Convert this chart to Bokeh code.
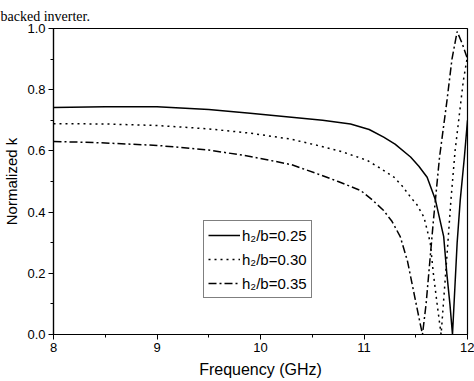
from bokeh.plotting import figure
from bokeh.models import Range1d, Legend, LegendItem, FixedTicker
from bokeh.embed import file_html
from bokeh.resources import INLINE

# Data
freq_025 = [8.0, 8.5, 9.0, 9.5, 9.9, 10.3, 10.6, 10.87, 11.05, 11.19, 11.3, 11.45, 11.53, 11.61, 11.69, 11.77, 11.80, 11.83, 11.855, 11.9, 11.93, 11.97, 12.0]
k_025 = [0.742, 0.744, 0.744, 0.735, 0.723, 0.710, 0.700, 0.688, 0.670, 0.645, 0.622, 0.580, 0.550, 0.514, 0.44, 0.32, 0.20, 0.10, 0.0, 0.30, 0.44, 0.58, 0.70]

freq_030 = [8.0, 8.5, 9.0, 9.5, 9.9, 10.3, 10.55, 10.8, 11.03, 11.15, 11.29, 11.37, 11.45, 11.51, 11.58, 11.64, 11.67, 11.71, 11.745, 11.80, 11.84, 11.88, 11.96, 12.0]
k_030 = [0.689, 0.688, 0.683, 0.672, 0.658, 0.638, 0.618, 0.596, 0.569, 0.545, 0.514, 0.485, 0.449, 0.425, 0.383, 0.30, 0.20, 0.09, 0.0, 0.25, 0.44, 0.60, 0.83, 0.91]

freq_035 = [8.0, 8.5, 9.0, 9.5, 9.9, 10.3, 10.55, 10.75, 10.97, 11.08, 11.19, 11.27, 11.35, 11.42, 11.48, 11.54, 11.565, 11.6, 11.67, 11.73, 11.8, 11.85, 11.9, 11.95, 12.0]
k_035 = [0.631, 0.626, 0.618, 0.603, 0.582, 0.555, 0.525, 0.500, 0.470, 0.440, 0.405, 0.370, 0.32, 0.24, 0.14, 0.04, 0.0, 0.10, 0.37, 0.58, 0.76, 0.90, 0.99, 0.95, 0.90]

labels = ["h\u2082/b=0.25", "h\u2082/b=0.30", "h\u2082/b=0.35"]
x_ticks = [8, 9, 10, 11, 12]
y_ticks = [0.0, 0.2, 0.4, 0.6, 0.8, 1.0]

FONT = "Liberation Sans"

p = figure(output_backend="svg", toolbar_location=None,
           x_range=Range1d(8, 12), y_range=Range1d(0, 1.0),
           frame_width=414, frame_height=306,
           min_border_left=53, min_border_right=7, min_border_top=28, min_border_bottom=47)
p.background_fill_color = "white"
p.border_fill_color = "white"
p.outline_line_color = "black"
p.outline_line_width = 1.2
p.xgrid.visible = False
p.ygrid.visible = False

# caption text at top
p.title.text = "backed inverter."
p.title.text_font = "Liberation Serif"
p.title.text_font_size = "14px"
p.title.text_font_style = "normal"
p.title.text_color = "black"
p.title.align = "left"
p.title.offset = -53
p.title.standoff = 10

r1 = p.line(freq_025, k_025, line_color="black", line_width=1.5)
r2 = p.line(freq_030, k_030, line_color="black", line_width=1.5, line_dash="2 4")
r3 = p.line(freq_035, k_035, line_color="black", line_width=1.5, line_dash="8 3 2 3")

for ax in (p.xaxis[0], p.yaxis[0]):
    ax.axis_line_color = "black"
    ax.axis_line_width = 1.2
    ax.major_tick_line_color = "black"
    ax.minor_tick_line_color = "black"
    ax.major_tick_out = 5
    ax.major_tick_in = 0
    ax.minor_tick_out = 3
    ax.minor_tick_in = 0
    ax.major_label_text_font = FONT
    ax.major_label_text_font_size = "13px"
    ax.major_label_text_color = "black"
    ax.major_label_standoff = 3
    ax.axis_label_text_font = FONT
    ax.axis_label_text_font_style = "normal"
    ax.axis_label_text_color = "black"

p.xaxis.ticker = FixedTicker(ticks=x_ticks, minor_ticks=[8.5, 9.5, 10.5, 11.5])
p.yaxis.ticker = FixedTicker(ticks=y_ticks, minor_ticks=[0.1, 0.3, 0.5, 0.7, 0.9])
p.yaxis.major_label_overrides = {v: f"{v:.1f}" for v in y_ticks}
p.xaxis.major_label_overrides = {v: str(v) for v in x_ticks}

p.xaxis.axis_label = "Frequency (GHz)"
p.xaxis.axis_label_text_font_size = "16px"
p.xaxis.axis_label_standoff = 6

p.yaxis.axis_label = "Normalized k"
p.yaxis.axis_label_text_font_size = "15px"
p.yaxis.axis_label_standoff = 4

legend = Legend(items=[LegendItem(label=labels[0], renderers=[r1]),
                       LegendItem(label=labels[1], renderers=[r2]),
                       LegendItem(label=labels[2], renderers=[r3])],
                location=(150, 36))
legend.label_text_font = FONT
legend.label_text_font_size = "15px"
legend.label_text_color = "black"
legend.glyph_width = 32
legend.glyph_height = 20
legend.label_height = 20
legend.spacing = 4
legend.padding = 4
legend.margin = 0
legend.label_standoff = 2
legend.border_line_color = "black"
legend.border_line_width = 1
legend.background_fill_alpha = 1.0
p.add_layout(legend, "center")

open("out.html", "w").write(file_html(p, INLINE))
